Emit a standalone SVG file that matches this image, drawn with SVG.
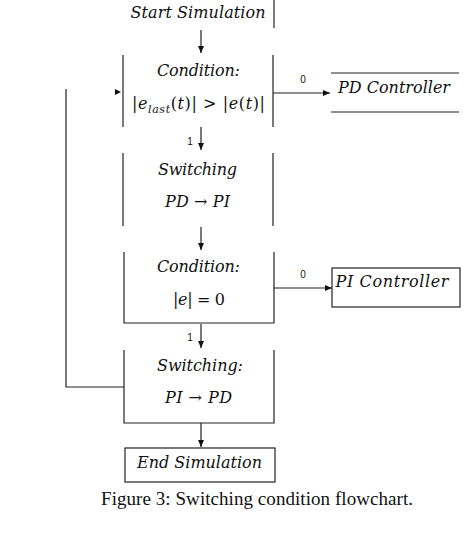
<svg xmlns="http://www.w3.org/2000/svg" width="474" height="538" viewBox="0 0 474 538">
<defs>
<marker id="ah" markerWidth="7" markerHeight="6" refX="7" refY="3" orient="auto" markerUnits="userSpaceOnUse">
<path d="M0,0 L7,3 L0,6 Z" fill="#111"/>
</marker>
<style>
.ln{stroke:#222;stroke-width:1.2;fill:none}
.bx{stroke:#222;stroke-width:1.2;fill:#fff}
.m{font-family:"DejaVu Serif","Liberation Serif",serif;font-style:italic;font-size:16px;fill:#111;text-anchor:middle}
.u{font-style:normal}
.lb{font-family:"Liberation Sans",Arial,sans-serif;font-size:10px;fill:#111;text-anchor:middle}
.cap{font-family:"Liberation Serif","Times New Roman",serif;font-size:19px;fill:#111}
</style>
</defs>
<rect width="474" height="538" fill="#fff"/>

<g id="connectors">
<line class="ln" x1="201" y1="30" x2="201" y2="53" marker-end="url(#ah)"/>
<line class="ln" x1="201" y1="127" x2="201" y2="150" marker-end="url(#ah)"/>
<line class="ln" x1="201" y1="227" x2="201" y2="250" marker-end="url(#ah)"/>
<line class="ln" x1="201" y1="324" x2="201" y2="348" marker-end="url(#ah)"/>
<line class="ln" x1="201" y1="423" x2="201" y2="447" marker-end="url(#ah)"/>
<line class="ln" x1="273" y1="93" x2="330" y2="93" marker-end="url(#ah)"/>
<line class="ln" x1="274" y1="288" x2="332" y2="288" marker-end="url(#ah)"/>
<path class="ln" d="M124,387 H66 V89"/>
<path d="M115,89 L121,92 L115,95 Z" fill="#111"/>
<text class="lb" x="190" y="145">1</text>
<text class="lb" x="190" y="341">1</text>
<text class="lb" x="303" y="83">0</text>
<text class="lb" x="303" y="278">0</text>
</g>

<g id="start">
<line class="ln" x1="274" y1="0" x2="274" y2="28"/>
<text class="m" x="198" y="18" textLength="135">Start Simulation</text>
</g>

<g id="cond1">
<line class="ln" x1="123" y1="55" x2="123" y2="127"/>
<line class="ln" x1="273" y1="55" x2="273" y2="127"/>
<text class="m" x="198.5" y="76" textLength="83">Condition:</text>
<text class="m" x="198.5" y="109" textLength="133"><tspan class="u">|</tspan>e<tspan font-size="11" dy="4">last</tspan><tspan class="u" dy="-4">(</tspan>t<tspan class="u">)| &gt; |</tspan>e<tspan class="u">(</tspan>t<tspan class="u">)|</tspan></text>
</g>

<g id="pd">
<line class="ln" x1="331" y1="73" x2="459" y2="73"/>
<line class="ln" x1="331" y1="112" x2="459" y2="112"/>
<text class="m" x="394" y="93" textLength="112">PD Controller</text>
</g>

<g id="switch1">
<line class="ln" x1="123" y1="153" x2="123" y2="226"/>
<line class="ln" x1="273" y1="153" x2="273" y2="226"/>
<text class="m" x="197.5" y="175" textLength="79">Switching</text>
<text class="m" x="197.5" y="207" textLength="65">PD <tspan class="u">→</tspan> PI</text>
</g>

<g id="cond2">
<path class="ln" d="M124,252 V323 H274 V252"/>
<text class="m" x="198.5" y="272" textLength="83">Condition:</text>
<text class="m" x="199" y="305" textLength="52"><tspan class="u">|</tspan>e<tspan class="u">| = 0</tspan></text>
</g>

<g id="pi">
<rect class="bx" x="332" y="268" width="128" height="39"/>
<text class="m" x="392" y="287" textLength="113">PI Controller</text>
</g>

<g id="switch2">
<path class="ln" d="M124,350 V423 H274 V350"/>
<text class="m" x="200" y="371" textLength="86">Switching:</text>
<text class="m" x="198.5" y="403" textLength="67">PI <tspan class="u">→</tspan> PD</text>
</g>

<g id="end">
<rect class="bx" x="125" y="448" width="150" height="34"/>
<text class="m" x="199.5" y="468" textLength="125">End Simulation</text>
</g>

<text class="cap" x="101" y="505" textLength="312">Figure 3: Switching condition flowchart.</text>
</svg>
